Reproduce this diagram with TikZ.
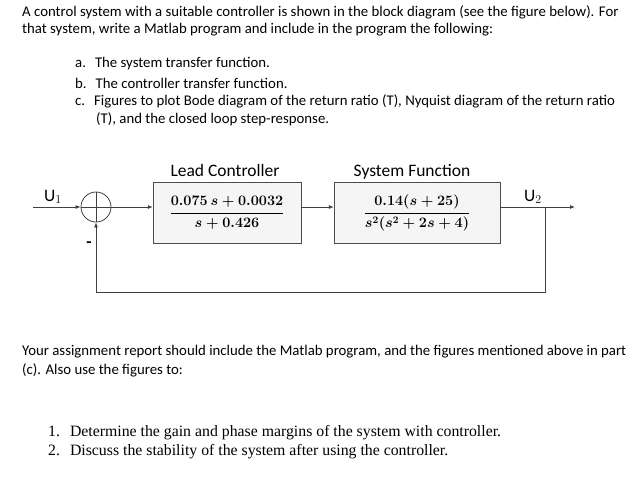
\documentclass[tikz,border=0pt]{standalone}
\usepackage{amsmath,bm}
\usepackage{fontspec}
\setmainfont{Carlito}
\newfontfamily\tnr{Liberation Serif}
\usetikzlibrary{arrows.meta}
\newcommand\leadtf{$\displaystyle\bm{\frac{0.075\,s+0.0032}{s+0.426}}$}
\newcommand\systf{$\displaystyle\bm{\frac{0.14(s+25)}{s^2(s^2+2s+4)}}$}
\begin{document}
\begin{tikzpicture}[x=1pt,y=-1pt,
  txt/.style={anchor=west,inner sep=0pt,font=\fontsize{14.8}{17}\selectfont},
  blk/.style={draw=black!70,fill=black!4,minimum height=61pt,inner sep=0pt,font=\fontsize{14}{16}\selectfont},
  sig/.style={draw=black!75,line width=0.8pt,-{Latex[length=5pt,width=4pt]}},
  lab/.style={inner sep=0pt,font=\fontsize{17.5}{19}\selectfont}]
\useasboundingbox (0,0) rectangle (642,488);
\node[txt] (p1) at (22,12) {A control system with a suitable controller is shown in the block diagram (see the figure below). For};
\node[txt] (p2) at (22,30) {that system, write a Matlab program and include in the program the following:};
\node[txt] (la) at (75,64) {a.\hspace{9pt}The system transfer function.};
\node[txt] (lb) at (75,83) {b.\hspace{9pt}The controller transfer function.};
\node[txt] (lc) at (75,101) {c.\hspace{9pt}Figures to plot Bode diagram of the return ratio (T), Nyquist diagram of the return ratio};
\node[txt] (lc2) at (96,119) {(T), and the closed loop step-response.};
\node[draw=black!75,line width=0.8pt,circle,minimum size=30pt,inner sep=0pt] (sum) at (96,207) {};
\draw[black!75,line width=0.8pt] (sum.north) -- (sum.south) (sum.west) -- (sum.east);
\node[blk,minimum width=148pt] (lead) at (227,213) {\leadtf};
\node[blk,minimum width=166pt] (sys) at (417,213) {\systf};
\node[lab] (ll) at (225,170) {Lead Controller};
\node[lab] (sl) at (412,172) {System Function};
\coordinate (in) at (33,207);
\coordinate (out) at (575,207);
\coordinate (br) at (545,207);
\coordinate (fb1) at (545,292);
\coordinate (fb2) at (96,292);
\draw[sig] (in) -- (sum.west);
\draw[sig] (sum.east) -- (lead.west |- sum.east);
\draw[sig] (lead.east |- sum) -- (sys.west |- sum);
\draw[sig] (sys.east |- sum) -- (out);
\draw[sig] (br) -- (fb1) -- (fb2) -- (sum.south);
\node[lab] (u1) at (53,197) {U$_1$};
\node[lab] (u2) at (533,197) {U$_2$};
\node[lab,font=\bfseries\fontsize{17}{19}\selectfont] (mn) at (89,245) {-};
\node[txt] (q1) at (22,352) {Your assignment report should include the Matlab program, and the figures mentioned above in part};
\node[txt] (q2) at (22,370) {(c). Also use the figures to:};
\node[txt,font=\tnr\fontsize{15.8}{17}\selectfont] (n1) at (48,433) {1.\hspace{10pt}Determine the gain and phase margins of the system with controller.};
\node[txt,font=\tnr\fontsize{15.8}{17}\selectfont] (n2) at (48,452) {2.\hspace{10pt}Discuss the stability of the system after using the controller.};
\end{tikzpicture}
\end{document}
